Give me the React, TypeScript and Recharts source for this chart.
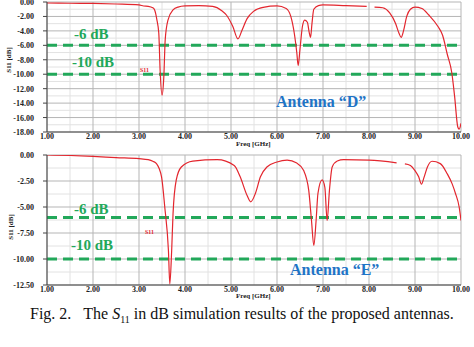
import { LineChart, Line, XAxis, YAxis, CartesianGrid, ReferenceLine } from "recharts";

// frequency axis (GHz)
const freqTicks = [1, 2, 3, 4, 5, 6, 7, 8, 9, 10];
const freqMinor = [1.5, 2.5, 3.5, 4.5, 5.5, 6.5, 7.5, 8.5, 9.5];

// Antenna "D"
const dTicks = [0, -2, -4, -6, -8, -10, -12, -14, -16, -18];
const dMinor = [-1, -3, -5, -7, -9, -11, -13, -15, -17];
const dFreq = [
  1.0, 1.5, 2.0, 2.5, 3.0, 3.1, 3.2, 3.3, 3.34, 3.39, 3.43, 3.46, 3.5, 3.54, 3.57,
  3.63, 3.74, 3.85, 4.0, 4.3, 4.6, 4.8, 4.9, 5.04, 5.15, 5.24, 5.35, 5.49, 5.7, 6.0,
  6.2, 6.3, 6.38, 6.43, 6.46, 6.5, 6.55, 6.6, 6.66, 6.7, 6.73, 6.76, 6.8, 6.9, 7.0,
  7.5, 7.95, 8.05, 8.12, 8.3, 8.45, 8.58, 8.65, 8.7, 8.75, 8.82, 8.9, 9.0, 9.15, 9.3,
  9.5, 9.6, 9.7, 9.8, 9.86, 9.93, 9.96, 10.0,
];
const dS11 = [
  -0.14, -0.17, -0.2, -0.28, -0.4, -0.55, -0.6, -0.8, -1.1, -2.5, -4.3, -9.6, -12.9, -10.3, -5.2,
  -2.5, -1.1, -0.7, -0.55, -0.5, -0.6, -1.2, -1.8, -3.4, -5.1, -3.9, -2.3, -1.3, -0.75, -0.55,
  -0.9, -2.0, -4.5, -7.0, -8.8, -6.5, -3.5, -2.5, -2.8, -4.2, -4.9, -3.0, -1.0, -0.5, -0.4,
  -0.5, -0.6, null, -0.7, -0.8, -1.5, -3.0, -4.3, -4.9, -4.0, -2.0, -1.0, -0.7, -0.9, -1.8,
  -3.4, -4.6, -7.2, -9.8, -13.0, -17.3, -17.6, -16.8,
];

// Antenna "E"
const eTicks = [0, -2.5, -5, -7.5, -10, -12.5];
const eMinor = [-1.25, -3.75, -6.25, -8.75, -11.25];
const eFreq = [
  1.0, 1.5, 2.0, 2.5, 3.0, 3.2, 3.3, 3.38, 3.49, 3.56, 3.64, 3.67, 3.71, 3.74, 3.81,
  3.92, 4.17, 4.7, 5.07, 5.2, 5.35, 5.43, 5.53, 5.64, 5.78, 6.0, 6.22, 6.43, 6.58, 6.69,
  6.75, 6.8, 6.85, 6.89, 6.98, 7.04, 7.09, 7.14, 7.2, 7.31, 7.45, 8.0, 8.6, 8.7, 8.78,
  8.9, 9.0, 9.08, 9.14, 9.2, 9.27, 9.37, 9.55, 9.7, 9.81, 9.88, 9.96, 10.0,
];
const eS11 = [
  0, -0.05, -0.13, -0.25, -0.35, -0.45, -0.6, -0.83, -2.1, -5.0, -9.2, -12.4, -9.2, -5.65, -2.4,
  -1.15, -0.58, -0.45, -1.0, -2.1, -3.9, -4.5, -3.7, -2.1, -1.15, -0.67, -0.5, -0.77, -1.5, -3.4,
  -6.3, -8.7, -6.3, -3.7, -2.4, -3.1, -6.3, -3.4, -1.15, -0.58, -0.45, -0.5, -0.75, null, -0.85,
  -1.0, -1.5, -2.1, -2.8, -2.1, -1.15, -0.6, -0.83, -1.8, -2.8, -3.7, -5.0, -6.3,
];

const dData = dFreq.map((f, i) => ({ f, s: dS11[i] }));
const eData = eFreq.map((f, i) => ({ f, s: eS11[i] }));

const serif = "'Liberation Serif', 'DejaVu Serif', serif";
const green = "#22a85a";
const blue = "#1f74c6";
const red = "#e3262e";

const XTick = ({ x, y, payload }: any) => (
  <text x={x} y={y - 1} textAnchor="middle" fontSize={8} fontWeight={700} fontFamily={serif} fill="#222">
    {Number(payload.value).toFixed(2)}
  </text>
);

const YTick = ({ x, y, payload }: any) => (
  <text x={x - 7} y={y + 3} textAnchor="end" fontSize={8} fontWeight={700} fontFamily={serif} fill="#222">
    {Number(payload.value).toFixed(2)}
  </text>
);

interface PanelProps {
  top: number;
  padTop: number;
  data: { f: number; s: number | null }[];
  ticks: number[];
  minor: number[];
  min: number;
}

function Panel({ top, padTop, data, ticks, minor, min }: PanelProps) {
  return (
    <div style={{ position: "absolute", left: 0, top }}>
      <LineChart width={474} height={143 + padTop} data={data} margin={{ top: padTop, right: 13, bottom: 0, left: 0 }}>
        <CartesianGrid stroke="#e2e2e2" horizontalValues={minor} verticalValues={freqMinor} />
        <CartesianGrid stroke="#b5b5b5" horizontalValues={ticks} verticalValues={freqTicks} />
        <XAxis
          dataKey="f"
          type="number"
          domain={[1, 10]}
          ticks={freqTicks}
          interval={0}
          tick={<XTick />}
          tickLine={false}
          height={13}
          axisLine={{ stroke: "#444" }}
          allowDataOverflow
        />
        <YAxis
          type="number"
          domain={[min, 0]}
          ticks={ticks}
          interval={0}
          tick={<YTick />}
          tickSize={4}
          width={47}
          axisLine={{ stroke: "#444" }}
          tickLine={{ stroke: "#444" }}
          allowDataOverflow
        />
        <ReferenceLine y={-6} stroke={green} strokeWidth={3} strokeDasharray="10 6" />
        <ReferenceLine y={-10} stroke={green} strokeWidth={3} strokeDasharray="10 6" />
        <Line
          type="monotone"
          dataKey="s"
          stroke={red}
          strokeWidth={1.2}
          dot={false}
          connectNulls={false}
          isAnimationActive={false}
        />
      </LineChart>
    </div>
  );
}

const abs = (left: number, top: number, extra: object = {}) => ({
  position: "absolute" as const,
  left,
  top,
  fontFamily: serif,
  whiteSpace: "nowrap" as const,
  lineHeight: 1,
  ...extra,
});

const yLabel = (cx: number, cy: number) => ({
  position: "absolute" as const,
  left: cx - 20,
  top: cy - 4,
  width: 40,
  textAlign: "center" as const,
  fontFamily: serif,
  fontSize: 7,
  fontWeight: 700,
  color: "#222",
  lineHeight: "8px",
  whiteSpace: "nowrap" as const,
  transform: "rotate(-90deg)",
});

export default function App() {
  return (
    <div style={{ position: "absolute", left: 0, top: 0, width: 474, height: 347, background: "#fff", overflow: "hidden" }}>
      <Panel top={0} padTop={2} data={dData} ticks={dTicks} minor={dMinor} min={-18} />
      <Panel top={148.7} padTop={6} data={eData} ticks={eTicks} minor={eMinor} min={-12.5} />

      {/* top panel labels */}
      <div style={abs(74, 27, { fontSize: 15, fontWeight: 700, color: green })}>-6 dB</div>
      <div style={abs(72, 55, { fontSize: 15, fontWeight: 700, color: green })}>-10 dB</div>
      <div style={abs(140, 67, { fontSize: 6, fontWeight: 700, color: red })}>S11</div>
      <div style={abs(276, 94, { fontSize: 16, fontWeight: 700, color: blue })}>Antenna “D”</div>
      <div style={abs(236, 141, { fontSize: 7, fontWeight: 700, color: "#222" })}>Freq [GHz]</div>
      <div style={yLabel(9, 60)}>S11 [dB]</div>

      {/* bottom panel labels */}
      <div style={abs(74, 202, { fontSize: 15, fontWeight: 700, color: green })}>-6 dB</div>
      <div style={abs(71, 238, { fontSize: 15, fontWeight: 700, color: green })}>-10 dB</div>
      <div style={abs(145, 229, { fontSize: 6, fontWeight: 700, color: red })}>S11</div>
      <div style={abs(290, 262, { fontSize: 16, fontWeight: 700, color: blue })}>Antenna “E”</div>
      <div style={abs(236, 293, { fontSize: 7, fontWeight: 700, color: "#222" })}>Freq [GHz]</div>
      <div style={yLabel(11, 227)}>S11 [dB]</div>

      {/* caption */}
      <div style={abs(30, 306, { fontSize: 16, color: "#111" })}>
        Fig. 2.&nbsp;&nbsp;&nbsp;The <i>S</i><sub style={{ fontSize: 10 }}>11</sub> in dB simulation results of the proposed antennas.
      </div>
    </div>
  );
}
